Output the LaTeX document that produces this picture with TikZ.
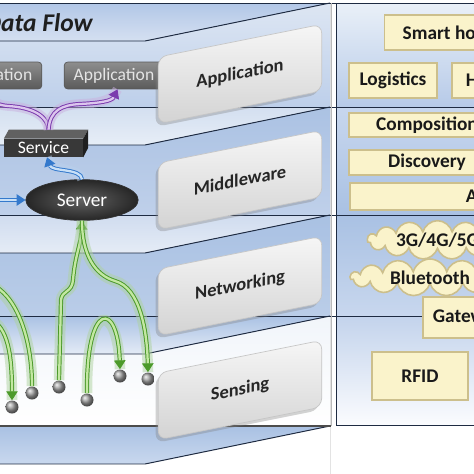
\documentclass[tikz,border=0pt]{standalone}
\usepackage{fontspec}
\setmainfont{Carlito}
\usetikzlibrary{positioning,arrows.meta,shapes.geometric,shapes.symbols,shadows}

% --- Colours ---
\definecolor{edgeline}{HTML}{1E2B42}
\definecolor{boxhi}{HTML}{F6F6F6}
\definecolor{boxlo}{HTML}{D3D3D3}
\definecolor{apphi}{HTML}{8E8E8E}
\definecolor{applo}{HTML}{5A5A5A}
\definecolor{techfill}{HTML}{FAF3CB}
\definecolor{techedge}{HTML}{CCBF8C}
\definecolor{purpleflow}{HTML}{7B3BAE}
\definecolor{purplehi}{HTML}{DCC6EE}
\definecolor{blueflow}{HTML}{3479CC}
\definecolor{bluehi}{HTML}{C9E0F7}
\definecolor{greenflow}{HTML}{4C9A2A}
\definecolor{greenhi}{HTML}{C3E8A2}

\tikzset{
  slabline/.style={draw=edgeline,line width=0.55pt},
  layerbox/.style={draw=gray!45,rounded corners=5pt,top color=boxhi,bottom color=boxlo,
    minimum width=93pt,minimum height=38pt,yslant=0.2,
    font=\fontsize{10.5}{12}\selectfont\bfseries,text=black!85,
    drop shadow={shadow xshift=-1.5pt,shadow yshift=-1.8pt,opacity=.35}},
  appbox/.style={draw=black!65,rounded corners=2pt,top color=apphi,bottom color=applo,
    minimum width=56.7pt,minimum height=15.3pt,inner sep=0pt,text=white!90!black,
    font=\fontsize{10}{12}\selectfont},
  techbox/.style={draw=techedge,line width=0.9pt,fill=techfill,inner sep=0pt,
    font=\fontsize{11}{13}\selectfont\bfseries,text=black!90,
    drop shadow={shadow xshift=.8pt,shadow yshift=-.8pt,opacity=.3}},
  techcloud/.style={cloud,cloud puffs=15,cloud ignores aspect,draw=techedge,line width=0.9pt,
    fill=techfill,inner sep=0pt,font=\fontsize{11}{13}\selectfont\bfseries,text=black!90},
  sensor/.style={circle,minimum size=7.4pt,inner sep=0pt,ball color=gray!75},
  flowline/.style={line width=0.55pt,double distance=1.3pt,
    -{Triangle[length=5pt,width=6.5pt]}},
  purplearrow/.style={flowline,draw=purpleflow,double=purplehi,
    preaction={draw=purpleflow!40,line width=5.5pt,opacity=.5,arrows=-}},
  bluearrow/.style={flowline,draw=blueflow,double=bluehi,
    preaction={draw=blueflow!35,line width=5.5pt,opacity=.5,arrows=-}},
  greenarrow/.style={flowline,draw=greenflow,double=greenhi,
    preaction={draw=greenflow!45,line width=6pt,opacity=.5,arrows=-}},
}

\begin{document}
\begin{tikzpicture}[x=0.02cm,y=-0.02cm]

    % --- Frame ---
    \useasboundingbox (0,0) rectangle (474,474);
    \clip (0,0) rectangle (474,474);
    \fill[white] (0,0) rectangle (474,474);

    % --- Left panel: slabs (top face, front face) ---
    \foreach \ya/\yb/\ca/\cb/\cc/\cd in {
        3/107/B2C7E7/D5E0F1/DDE6F3/BDCFEA,
        107/215/D3DFF0/E7EEF7/ABC2E3/BFD0EA,
        215/316/D0DCEF/E5ECF6/A9C1E3/BACDE8,
        316/426/AAC2E4/E4EBF6/F1F5FA/FFFFFF,
        426/474/A9C1E3/C9D8EE/FFFFFF/FFFFFF}{
      \definecolor{facetop}{HTML}{\ca}
      \definecolor{facebot}{HTML}{\cb}
      \definecolor{fronttop}{HTML}{\cc}
      \definecolor{frontbot}{HTML}{\cd}
      \fill[top color=facetop,bottom color=facebot]
        (0,\ya) -- (330,\ya) -- (145,\ya+38) -- (0,\ya+38) -- cycle;
      \fill[top color=fronttop,bottom color=frontbot]
        (0,\ya+38) -- (145,\ya+38) -- (330,\ya) -- (330,\yb) -- (0,\yb) -- cycle;
      \draw[slabline] (0,\ya+38) -- (145,\ya+38) -- (330,\ya);
    }

    % --- Right panel: background per layer ---
    \foreach \ya/\yb/\ca/\cb in {
        3/107/EAF0F8/B6CAE8,
        107/215/C8D7EE/A9C1E3,
        215/316/A9C1E3/C8D7EE,
        316/425/C3D3EC/FBFCFE}{
      \definecolor{sectop}{HTML}{\ca}
      \definecolor{secbot}{HTML}{\cb}
      \fill[top color=sectop,bottom color=secbot] (336,\ya) rectangle (474,\yb);
    }

    % --- Layer borders ---
    \draw[slabline] (0,3) -- (474,3);
    \foreach \y in {107,215,316}
      \draw[slabline] (0,\y) -- (474,\y);
    \draw[gray!55,line width=0.4pt] (331,3) -- (331,426);
    \draw[black!70,line width=1.3pt] (0,426) -- (331,426);
    \draw[slabline] (336,3) -- (336,425) -- (474,425);

    % --- Title ---
    \node[anchor=base east,inner sep=0pt,font=\fontsize{14.5}{17}\selectfont\bfseries\itshape,text=black!88]
      (title) at (93,31) {Data Flow};

    % --- Application layer: apps ---
    \node[appbox] (app1) at (-8,75.5) {Application};
    \node[appbox] (app2) at (114,75.5) {Application};

    % --- Middleware: service and server ---
    \node[minimum width=44.8pt,minimum height=10.2pt,inner sep=0pt,
          fill=black!78,text=white,font=\fontsize{10}{12}\selectfont]
      (service) at (43.5,148) {Service};
    \fill[black!62] (service.north west) -- ++(5,-9)
      -- ([shift={(5,-9)}]service.north east) -- (service.north east) -- cycle;
    \fill[black!88] (service.north east) -- ++(5,-9) -- ++(0,18)
      -- (service.south east) -- cycle;

    \node[ellipse,minimum width=64pt,minimum height=23.2pt,inner sep=0pt,draw=black!80,
          inner color=black!62,outer color=black!85,text=white,
          font=\fontsize{11}{13}\selectfont]
      (server) at (82,200) {Server};

    % --- Sensing: things ---
    \node[sensor] (s1) at (12,407) {};
    \node[sensor] (s2) at (32,393) {};
    \node[sensor] (s3) at (59,387) {};
    \node[sensor] (s4) at (87,400) {};
    \node[sensor] (s5) at (120,376) {};
    \node[sensor] (s6) at (148,379) {};

    % free ends leaving the picture
    \coordinate (gwin) at (-12,200);
    \coordinate (upleft) at (-12,282);
    \coordinate (downleft) at (-12,318);

    % --- Data flow ---
    \draw[purplearrow] ([shift={(5,-9)}]service.north) .. controls (47,112) and (25,107) .. (8,106)
      .. controls (-5,105) and (-8,100) .. (app1.south);
    \draw[purplearrow] ([shift={(5,-9)}]service.north) .. controls (50,110) and (62,105) .. (80,104)
      .. controls (100,103) and (112,101) .. ([xshift=2pt]app2.south);

    \draw[bluearrow] (server.north) .. controls (81,168) and (52,172) .. ([xshift=2pt]service.south);
    \draw[bluearrow] (gwin) -- (server.west);

    \draw[greenarrow] (s3.north) -- (61,300) .. controls (62,290) and (72,293) .. (73,280)
      .. controls (75,255) and (81,245) .. (server.south);
    \draw[greenarrow] (server.south) .. controls (82,255) and (95,275) .. (115,281)
      .. controls (140,288) and (147,330) .. (s6.north);
    \draw[greenarrow] (s4.north) .. controls (86,300) and (118,300) .. (s5.north);
    \draw[greenarrow] (s2.north) .. controls (32,340) and (18,300) .. (upleft);
    \draw[greenarrow] (downleft) .. controls (5,325) and (12,345) .. (s1.north);

    % --- Layer labels ---
    \node[layerbox] (application) at (240,74) {Application};
    \node[layerbox] (middleware) at (240,180) {Middleware};
    \node[layerbox] (networking) at (240,286) {Networking};
    \node[layerbox] (sensing) at (240,390) {Sensing};

    % --- Right panel: technologies ---
    \node[techbox,minimum width=77pt,minimum height=19.8pt] (smarthome) at (452,32.5) {Smart home};
    \node[techbox,minimum width=50pt,minimum height=19.8pt] (logistics) at (393,80.5) {Logistics};
    \node[techbox,anchor=west,minimum height=19.8pt,text width=40pt,align=left,inner xsep=8pt]
      (health) at (451,80.5) {H};

    \node[techbox,minimum width=88.5pt,minimum height=13.6pt] (composition) at (427,125) {Composition};
    \node[techbox,minimum width=88.5pt,minimum height=14.2pt] (discovery) at (427,162.5) {Discovery};
    \node[techbox,anchor=west,minimum height=15.3pt,text width=40pt,align=left,inner xsep=66pt]
      (mwthird) at (349,196.5) {A};

    \node[techcloud,minimum width=80pt,minimum height=20.4pt] (cellular) at (437.5,240) {3G/4G/5G};
    \node[techcloud,minimum width=90.7pt,minimum height=17.6pt] (bluetooth) at (430,277.5) {Bluetooth};
    \node[techbox,minimum width=51pt,minimum height=23.2pt] (gateway) at (468,317.5) {Gateway};

    \node[techbox,minimum width=54.4pt,minimum height=27.2pt] (rfid) at (420,376) {RFID};

\end{tikzpicture}
\end{document}
